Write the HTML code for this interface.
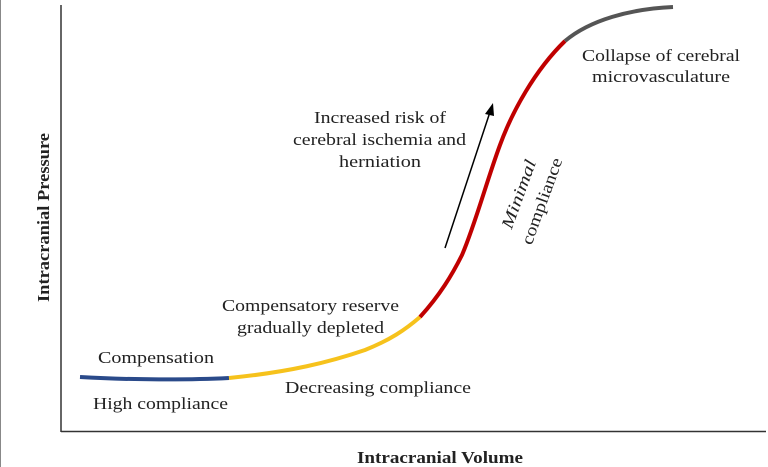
<!DOCTYPE html>
<html><head><meta charset="utf-8"><style>
html,body{margin:0;padding:0;background:#fff;}
svg{display:block;}
text{font-family:"Liberation Serif",serif;fill:#222;}
</style></head><body>
<svg width="768" height="467" viewBox="0 0 768 467">
<line x1="0.5" y1="0" x2="0.5" y2="467" stroke="#888" stroke-width="1"/>
<line x1="61" y1="5" x2="61" y2="432" stroke="#333" stroke-width="1.5"/>
<line x1="61" y1="431.5" x2="766" y2="431.5" stroke="#333" stroke-width="1.5"/>
<g fill="none" stroke-width="4" stroke-linecap="butt">
<path d="M80,377 C130,380 190,380 229,378" stroke="#2a4a8a"/>
<path d="M229,378 C290,372 330,362 365,350 C390,340 405,330 420,317" stroke="#f6c21c"/>
<path d="M420,317 C440,295 452,275 462,255 C475,225 487,180 500,145 C512,112 535,70 565,41" stroke="#c00000"/>
<path d="M565,41 C590,20 630,9 673,7" stroke="#555"/>
</g>
<line x1="445" y1="248" x2="490" y2="112" stroke="#000" stroke-width="1.5"/>
<polygon points="493,103 485,114 494,116" fill="#000"/>
<g font-size="17">
<text x="314" y="123" textLength="132" lengthAdjust="spacingAndGlyphs">Increased risk of</text>
<text x="293" y="145" textLength="173" lengthAdjust="spacingAndGlyphs">cerebral ischemia and</text>
<text x="339" y="167" textLength="82" lengthAdjust="spacingAndGlyphs">herniation</text>
<text x="582" y="61" textLength="158" lengthAdjust="spacingAndGlyphs">Collapse of cerebral</text>
<text x="592" y="82" textLength="138" lengthAdjust="spacingAndGlyphs">microvasculature</text>
<text x="222" y="311" textLength="177" lengthAdjust="spacingAndGlyphs">Compensatory reserve</text>
<text x="237" y="333" textLength="147" lengthAdjust="spacingAndGlyphs">gradually depleted</text>
<text x="98" y="363" textLength="116" lengthAdjust="spacingAndGlyphs">Compensation</text>
<text x="93" y="409" textLength="135" lengthAdjust="spacingAndGlyphs">High compliance</text>
<text x="285" y="393" textLength="186" lengthAdjust="spacingAndGlyphs">Decreasing compliance</text>
<text transform="translate(524,196) rotate(-70)" text-anchor="middle" font-style="italic" textLength="72" lengthAdjust="spacingAndGlyphs">Minimal</text>
<text transform="translate(547,203) rotate(-70)" text-anchor="middle" textLength="91" lengthAdjust="spacingAndGlyphs">compliance</text>
<text x="357" y="463" font-weight="bold" textLength="166" lengthAdjust="spacingAndGlyphs">Intracranial Volume</text>
<text transform="translate(49,302) rotate(-90)" font-weight="bold" textLength="169" lengthAdjust="spacingAndGlyphs">Intracranial Pressure</text>
</g>
</svg>
</body></html>
